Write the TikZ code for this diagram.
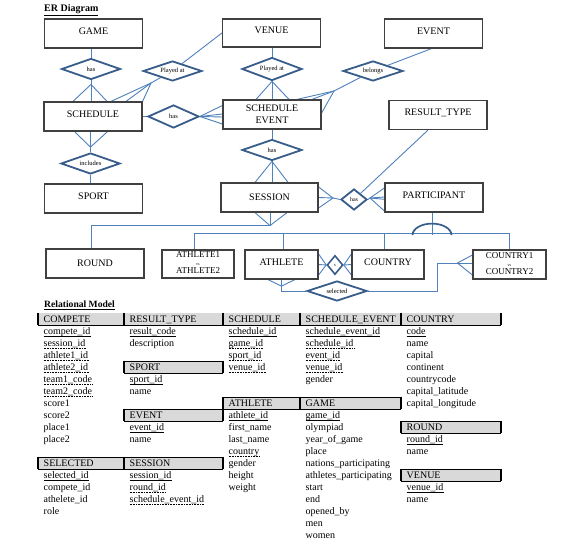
\documentclass[tikz,border=0pt]{standalone}
\usepackage{fontspec}
\setmainfont{Liberation Serif}
\usetikzlibrary{shapes.geometric,calc}
\definecolor{connc}{HTML}{4F81BD}
\definecolor{diac}{HTML}{385D8A}
\definecolor{hdrgray}{HTML}{D9D9D9}
\definecolor{boxline}{HTML}{404040}
\pgfdeclarelayer{bg}
\pgfsetlayers{bg,main}
\newcommand\hdr[5]{%
  \fill[hdrgray] (#2,{313+12*#4}) rectangle (#3,{325+12*#4});
  \draw[line width=0.6pt] (#2,{313+12*#4}) -- (#3,{313+12*#4}) (#2,{325+12*#4}) -- (#3,{325+12*#4});
  \draw[line width=1.3pt] (#2,{312.7+12*#4}) -- (#2,{325.3+12*#4}) (#3,{312.7+12*#4}) -- (#3,{325.3+12*#4});
  \node[tx] (#1) at ({#2+5.5},{322.5+12*#4}) {#5};}
\newcommand\cell[4]{\node[tx] (#1) at (#2,{322.5+12*#3}) {#4};}
\newcommand\pcell[4]{\node[tx] (#1) at (#2,{322.5+12*#3}) {#4};
  \draw[line width=0.7pt] ([yshift=-1.8pt]#1.base west) -- ([yshift=-1.8pt]#1.base east);}
\newcommand\fcell[4]{\node[tx] (#1) at (#2,{322.5+12*#3}) {#4};
  \draw[line width=0.8pt,dash pattern=on 0.8pt off 0.8pt] ([yshift=-1.8pt]#1.base west) -- ([yshift=-1.8pt]#1.base east);}
\begin{document}
\begin{tikzpicture}[x=1pt,y=-1pt,
  conn/.style={draw=connc,line width=0.9pt},
  entbase/.style={draw=boxline,line width=1.2pt,fill=white,minimum width=98pt,minimum height=29pt,inner sep=0pt,font=\fontsize{10}{11.5}\selectfont},
  ent/.style={entbase,text height=7pt,text depth=5pt},
  entc/.style={entbase,text height=7pt,text depth=0pt},
  rel/.style={diamond,aspect=3,draw=diac,line width=1.8pt,fill=white,inner sep=0pt,minimum width=59pt,minimum height=21pt,font=\fontsize{6.5}{7}\selectfont},
  tx/.style={inner sep=0pt,anchor=base west,font=\fontsize{10}{12}\selectfont},
]
\useasboundingbox (0,0) rectangle (568,545);
\begin{pgfonlayer}{bg}
\fill[white] (0,0) rectangle (568,545);
\end{pgfonlayer}

\node[anchor=base west,inner sep=0pt,font=\bfseries\fontsize{10}{12}\selectfont] (title) at (44,12) {\underline{ER Diagram}};

% entities and relationships
\node[ent] (game) at (93.5,33.5) {GAME};
\node[ent,minimum height=28pt] (venue) at (271.5,33) {VENUE};
\node[ent] (event) at (433.5,33.5) {EVENT};
\node[rel] (has1) at (91,69) {has};
\node[rel,minimum height=20pt] (played1) at (172.5,71) {Played at};
\node[rel,minimum width=60pt,minimum height=23pt] (played2) at (272,69) {Played at};
\node[rel,minimum width=60pt,minimum height=20pt] (belongs) at (373,71) {belongs};
\node[ent] (schedule) at (93,116.5) {SCHEDULE};
\node[rel,minimum width=51pt,minimum height=23pt] (has2) at (173.5,116.5) {has};
\node[entbase,align=center] (schedevent) at (272,114.5) {SCHEDULE\\EVENT};
\node[ent] (resulttype) at (438,115) {RESULT\_TYPE};
\node[rel] (includes) at (90.5,163.5) {includes};
\node[rel,minimum width=60pt,minimum height=21pt] (has3) at (272,150) {has};
\node[ent] (sport) at (93.5,198.5) {SPORT};
\node[entc,minimum width=97pt] (session) at (269.5,197.5) {SESSION};
\node[rel,aspect=1,minimum width=26pt,minimum height=21pt,font=\fontsize{6}{6}\selectfont] (has4) at (354,199.5) {has};
\node[ent] (participant) at (434,197.5) {PARTICIPANT};
\node[entc] (round) at (95,263.5) {ROUND};
\node[entbase,minimum width=72pt,minimum height=28pt,font=\fontsize{9}{9}\selectfont] (a1a2) at (198,264) {\begin{tabular}{@{}c@{}}ATHLETE1\\[-0.8pt]{\fontsize{4}{4}\selectfont vs}\\[-0.8pt]ATHLETE2\end{tabular}};
\node[ent,minimum width=73pt] (athlete) at (281.5,264.5) {ATHLETE};
\node[rel,aspect=1,minimum width=16pt,minimum height=19pt,line width=1.6pt,font=\fontsize{4.5}{5}\selectfont] (sdiam) at (335,265) {s};
\node[ent,minimum width=72pt] (country) at (388,264.5) {COUNTRY};
\node[entbase,minimum width=73pt,font=\fontsize{9}{9}\selectfont] (c1c2) at (509.5,264.5) {\begin{tabular}{@{}c@{}}COUNTRY1\\[-0.8pt]{\fontsize{4}{4}\selectfont vs}\\[-0.8pt]COUNTRY2\end{tabular}};
\node[rel,minimum width=60pt,minimum height=20pt] (selected) at (337,291) {selected};

\begin{pgfonlayer}{bg}
% game - has - schedule
\draw[conn] (game.south -| has1) -- (has1.north);
\draw[conn] (has1.south) -- (has1.south |- schedule.north);
\coordinate (cf1) at ($(has1.south)+(0,4)$);
\draw[conn] ($(has1.south |- schedule.north)+(-18,0)$) -- (cf1) -- ($(has1.south |- schedule.north)+(16,0)$);
% schedule - includes - sport
\draw[conn] (includes.north) -- (includes.north |- schedule.south);
\coordinate (cf2) at ($(includes.north)+(0,-5)$);
\draw[conn] ($(includes.north |- schedule.south)+(-16,0)$) -- (cf2) -- ($(includes.north |- schedule.south)+(17,0)$);
\draw[conn] (includes.south) -- (includes.south |- sport.north);
% played at 1
\draw[conn] (played1) -- (venue.west);
\coordinate (cf3) at (151,83);
\draw[conn] (played1) -- (cf3);
\draw[conn] (cf3) -- ($(schedule.north)+(18,0)$);
\draw[conn] (cf3) -- ($(schedule.north)+(33,0)$);
\draw[conn] (cf3) -- (schedule.north east);
% venue - played at 2 - schedule event
\draw[conn] (venue.south -| played2) -- (played2.north);
\draw[conn] (played2.south) -- (played2.south |- schedevent.north);
\draw[conn] ($(played2.south |- schedevent.north)+(-16,0)$) -- (played2.south) -- ($(played2.south |- schedevent.north)+(17,0)$);
% belongs
\draw[conn] (belongs) -- ($(event.south)+(-2,0)$);
\coordinate (cf4) at (334,91);
\draw[conn] (belongs) -- (cf4);
\draw[conn] (cf4) -- ($(schedevent.north)+(25,0)$);
\draw[conn] (cf4) -- ($(schedevent.north)+(40,0)$);
\draw[conn] (cf4) -- ($(schedevent.east)+(0,-1.5)$);
% schedule - has - schedule event
\draw[conn] (schedule.east) -- (has2.west);
\draw[conn] (has2.east) -- ($(schedevent.west)+(0,-9)$);
\draw[conn] (has2.east) -- ($(schedevent.west)+(0,-0.5)$);
\draw[conn] (has2.east) -- ($(schedevent.west)+(0,2.5)$);
\draw[conn] (has2.east) -- ($(schedevent.west)+(0,9.5)$);
% schedule event - has - session
\draw[conn] (schedevent.south) -- (has3.north);
\draw[conn] (has3.south) -- (has3.south |- session.north);
\draw[conn] ($(has3.south |- session.north)+(-17,0)$) -- (has3.south) -- ($(has3.south |- session.north)+(16,0)$);
% session - has - participant
\coordinate (cf5) at (333,198);
\draw[conn] (cf5) -- (has4.west);
\draw[conn] ($(session.east)+(0,-10.5)$) -- (cf5) -- ($(session.east)+(0,10.5)$);
\draw[conn] (session.east) -- (cf5);
\coordinate (cf6) at (370,198);
\draw[conn] (has4.east) -- (cf6);
\draw[conn] ($(participant.west)+(0,-9.5)$) -- (cf6) -- ($(participant.west)+(0,13.5)$);
\draw[conn] (cf6) -- ($(participant.west)+(0,-0.5)$);
\draw[conn] (cf6) -- ($(participant.west)+(0,1.8)$);
% result type - has
\draw[conn] (has4) -- ($(resulttype.south)+(-10,0)$);
% session - round
\coordinate (cf7) at ($(session.south)+(0.5,13)$);
\draw[conn] (session.south -| cf7) -- (cf7);
\draw[conn] ($(session.south)+(-14.5,0)$) -- (cf7) -- ($(session.south)+(17.5,0)$);
\draw[conn] (cf7) -| ($(round.north)+(-4,0)$);
% participant subtypes
\coordinate (isa) at ($(participant.south)+(-2,22)$);
\draw[conn] ($(participant.south)+(-2,0)$) -- (isa);
\draw[conn] ($(a1a2.north)+(-4,0)$) |- ($(c1c2.north)+(0,-16)$) -- (c1c2.north);
\draw[conn] ($(athlete.north)+(2,0)$) -- ++(0,-16);
\draw[conn] ($(country.north)+(-4,0)$) -- ++(0,-16);
% athlete - s - country
\draw[conn] ($(athlete.east)+(0,-10.5)$) -- (sdiam.west) -- ($(athlete.east)+(0,10.5)$);
\draw[conn] (athlete.east) -- (sdiam.west);
\draw[conn] ($(country.west)+(0,-10.5)$) -- (sdiam.east) -- ($(country.west)+(0,10.5)$);
\draw[conn] (country.west) -- (sdiam.east);
% athlete - selected - country pair
\coordinate (cf8) at ($(athlete.south)+(0,6.5)$);
\draw[conn] (selected.west) -| (athlete.south);
\draw[conn] ($(athlete.south)+(-13.5,0)$) -- (cf8) -- ($(athlete.south)+(13.5,0)$);
\coordinate (cf9) at ($(c1c2.west)+(-15,-1.5)$);
\draw[conn] (selected.east) -| ($(cf9)+(-20,0)$) -- (cf9);
\draw[conn] ($(c1c2.west)+(0,-9.5)$) -- (cf9) -- ($(c1c2.west)+(0,10.5)$);
\draw[conn] (cf9) -- (c1c2.west |- cf9);
\end{pgfonlayer}
\draw[draw=diac,line width=1.7pt] ($(isa)+(-19.5,0.5)$) arc[start angle=180,end angle=360,x radius=19.5,y radius=11.5];

% relational model
\node[anchor=base west,inner sep=0pt,font=\bfseries\fontsize{9.6}{12}\selectfont] (reltitle) at (44,308) {\underline{Relational Model}};
\fill[hdrgray] (38,313) rectangle (501,325);
\draw[line width=0.6pt] (38,325) -- (501,325);
\foreach \xx in {38,124,223,300,401,501} \draw[line width=1.3pt] (\xx,312.7) -- (\xx,325.3);
\node[tx] (t-compete) at (43.5,322.5) {COMPETE};
\node[tx] (t-resulttype) at (129.5,322.5) {RESULT\_TYPE};
\node[tx] (t-schedule) at (228.5,322.5) {SCHEDULE};
\node[tx] (t-schedevent) at (305.5,322.5) {SCHEDULE\_EVENT};
\node[tx] (t-country) at (406.5,322.5) {COUNTRY};
% column 1
\pcell{c1a}{43.5}{1}{compete\_id}
\fcell{c1b}{43.5}{2}{session\_id}
\fcell{c1c}{43.5}{3}{athlete1\_id}
\fcell{c1d}{43.5}{4}{athlete2\_id}
\fcell{c1e}{43.5}{5}{team1\_code}
\fcell{c1f}{43.5}{6}{team2\_code}
\cell{c1g}{43.5}{7}{score1}
\cell{c1h}{43.5}{8}{score2}
\cell{c1i}{43.5}{9}{place1}
\cell{c1j}{43.5}{10}{place2}
\hdr{t-selected}{38}{124}{12}{SELECTED}
\pcell{c1k}{43.5}{13}{selected\_id}
\cell{c1l}{43.5}{14}{compete\_id}
\cell{c1m}{43.5}{15}{athelete\_id}
\cell{c1n}{43.5}{16}{role}
% column 2
\pcell{c2a}{129.5}{1}{result\_code}
\cell{c2b}{129.5}{2}{description}
\hdr{t-sport}{124}{223}{4}{SPORT}
\pcell{c2c}{129.5}{5}{sport\_id}
\cell{c2d}{129.5}{6}{name}
\hdr{t-event}{124}{223}{8}{EVENT}
\pcell{c2e}{129.5}{9}{event\_id}
\cell{c2f}{129.5}{10}{name}
\hdr{t-session}{124}{223}{12}{SESSION}
\pcell{c2g}{129.5}{13}{session\_id}
\fcell{c2h}{129.5}{14}{round\_id}
\fcell{c2i}{129.5}{15}{schedule\_event\_id}
% column 3
\pcell{c3a}{228.5}{1}{schedule\_id}
\fcell{c3b}{228.5}{2}{game\_id}
\fcell{c3c}{228.5}{3}{sport\_id}
\fcell{c3d}{228.5}{4}{venue\_id}
\hdr{t-athlete}{223}{300}{7}{ATHLETE}
\pcell{c3e}{228.5}{8}{athlete\_id}
\cell{c3f}{228.5}{9}{first\_name}
\cell{c3g}{228.5}{10}{last\_name}
\fcell{c3h}{228.5}{11}{country}
\cell{c3i}{228.5}{12}{gender}
\cell{c3j}{228.5}{13}{height}
\cell{c3k}{228.5}{14}{weight}
% column 4
\pcell{c4a}{305.5}{1}{schedule\_event\_id}
\fcell{c4b}{305.5}{2}{schedule\_id}
\fcell{c4c}{305.5}{3}{event\_id}
\fcell{c4d}{305.5}{4}{venue\_id}
\cell{c4e}{305.5}{5}{gender}
\hdr{t-game}{300}{401}{7}{GAME}
\pcell{c4f}{305.5}{8}{game\_id}
\cell{c4g}{305.5}{9}{olympiad}
\cell{c4h}{305.5}{10}{year\_of\_game}
\cell{c4i}{305.5}{11}{place}
\cell{c4j}{305.5}{12}{nations\_participating}
\cell{c4k}{305.5}{13}{athletes\_participating}
\cell{c4l}{305.5}{14}{start}
\cell{c4m}{305.5}{15}{end}
\cell{c4n}{305.5}{16}{opened\_by}
\cell{c4o}{305.5}{17}{men}
\cell{c4p}{305.5}{18}{women}
% column 5
\pcell{c5a}{406.5}{1}{code}
\cell{c5b}{406.5}{2}{name}
\cell{c5c}{406.5}{3}{capital}
\cell{c5d}{406.5}{4}{continent}
\cell{c5e}{406.5}{5}{countrycode}
\cell{c5f}{406.5}{6}{capital\_latitude}
\cell{c5g}{406.5}{7}{capital\_longitude}
\hdr{t-round}{401}{501}{9}{ROUND}
\pcell{c5h}{406.5}{10}{round\_id}
\cell{c5i}{406.5}{11}{name}
\hdr{t-venue}{401}{501}{13}{VENUE}
\pcell{c5j}{406.5}{14}{venue\_id}
\cell{c5k}{406.5}{15}{name}
\end{tikzpicture}
\end{document}
